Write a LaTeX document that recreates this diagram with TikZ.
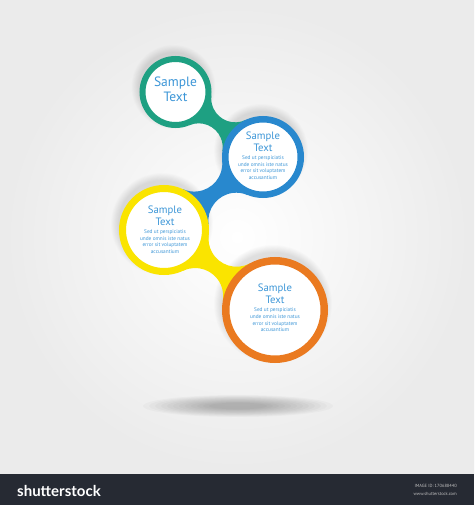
\documentclass[tikz,border=0pt]{standalone}
\usepackage{fontspec}
\setmainfont{PT Sans}
\newfontfamily\logofont{Lato}
\usetikzlibrary{calc}
\definecolor{tealring}{RGB}{30,160,130}
\definecolor{bluering}{RGB}{40,136,206}
\definecolor{yellowring}{RGB}{250,228,0}
\definecolor{orangering}{RGB}{234,122,32}
\definecolor{samplecol}{RGB}{60,150,215}
\definecolor{barcol}{RGB}{38,42,51}
\newcommand{\bigtitle}{{\fontsize{13.5}{15.5}\selectfont\begin{tabular}{@{}c@{}}Sample\\Text\end{tabular}}}
\newcommand{\smalltitle}{{\fontsize{10.7}{12}\selectfont\begin{tabular}{@{}c@{}}Sample\\Text\end{tabular}}}
\newcommand{\loremlines}{{\fontsize{5.3}{6.6}\selectfont\begin{tabular}{@{}c@{}}Sed ut perspiciatis\\unde omnis iste natus\\error sit voluptatem\\accusantium\end{tabular}}}
\begin{document}
\begin{tikzpicture}[x=1pt, y=-1pt]
	    \tikzset{
	      bubble/.style={circle, draw=#1, fill=white, inner sep=0pt, outer sep=0pt},
	      sample/.style={text=samplecol, align=center, inner sep=0pt},
	      halo/.style={black, opacity=0.012}
	    }
	    \useasboundingbox (0,0) rectangle (474,505);
	    \shade[inner color=white, outer color=black!8] (0,0) rectangle (474,474);
	    \coordinate (p1) at (175.5,92);
	    \coordinate (p2) at (263,157);
	    \coordinate (p3) at (164,230);
	    \coordinate (p4) at (275,310);
	    % soft shadows, lit from below
	    \foreach \k in {1,...,10} {
	      \fill[halo] ($(p1)+(-2,-5)$) circle ({34+0.8*\k});
	      \fill[halo] ($(p2)+(-2,-6)$) circle ({39+0.8*\k});
	      \fill[halo] ($(p3)+(-2,-6)$) circle ({43+0.8*\k});
	      \fill[halo] ($(p4)+(-2,-6)$) circle ({51+0.8*\k});
	    }
	    \foreach \k in {0,...,11}
	      \fill[black, opacity=0.022] (238,406) ellipse [x radius={95-6*\k}, y radius={11-0.7*\k}];
	    % bridges
	    \fill[tealring] (189.4,125.2) arc[start angle=-112.8, end angle=8.6, radius=24] -- (p2)
	      -- (245.5,120.0) arc[start angle=64.6, end angle=186, radius=24] -- (p1) -- cycle;
	    \fill[bluering] (222.2,160.9) arc[start angle=-5.5, end angle=114.5, radius=28] -- (p3)
	      -- (208.6,224.3) arc[start angle=172.6, end angle=292.7, radius=28] -- (p2) -- cycle;
	    \fill[yellowring] (183.2,270.7) arc[start angle=-115.4, end angle=9.9, radius=28] -- (p4)
	      -- (249.8,263.4) arc[start angle=61.7, end angle=186.8, radius=28] -- (p3) -- cycle;
	    % rings
	    \node[bubble=tealring, line width=6pt, minimum size=66pt] (c1) at (p1) {};
	    \node[bubble=bluering, line width=6.5pt, minimum size=75.5pt] (c2) at (p2) {};
	    \node[bubble=yellowring, line width=7pt, minimum size=83pt] (c3) at (p3) {};
	    \node[bubble=orangering, line width=7.5pt, minimum size=98.5pt] (c4) at (p4) {};
	    \node[sample] (t1) at (175.5,91) {\bigtitle};
	    \node[sample] (t2) at (263,156) {\smalltitle\\[-1pt]\loremlines};
	    \node[sample] (t3) at (165,230) {\smalltitle\\[-1pt]\loremlines};
	    \node[sample] (t4) at (275,308.5) {\smalltitle\\[-1pt]\loremlines};
	    % footer
	    \fill[barcol] (0,473.5) rectangle (474,505);
	    \node[anchor=base west, inner sep=0pt, text=white, font=\logofont\bfseries\fontsize{15}{15}\selectfont] (logo) at (17,496) {shutterstock};
	    \node[anchor=base east, inner sep=0pt, text=black!25, font=\fontsize{4.5}{5}\selectfont] (imgid) at (457,487.5) {IMAGE ID: 170688440};
	    \node[anchor=base east, inner sep=0pt, text=black!25, font=\fontsize{4.5}{5}\selectfont] (site) at (457,495) {www.shutterstock.com};
	\end{tikzpicture}
\end{document}
